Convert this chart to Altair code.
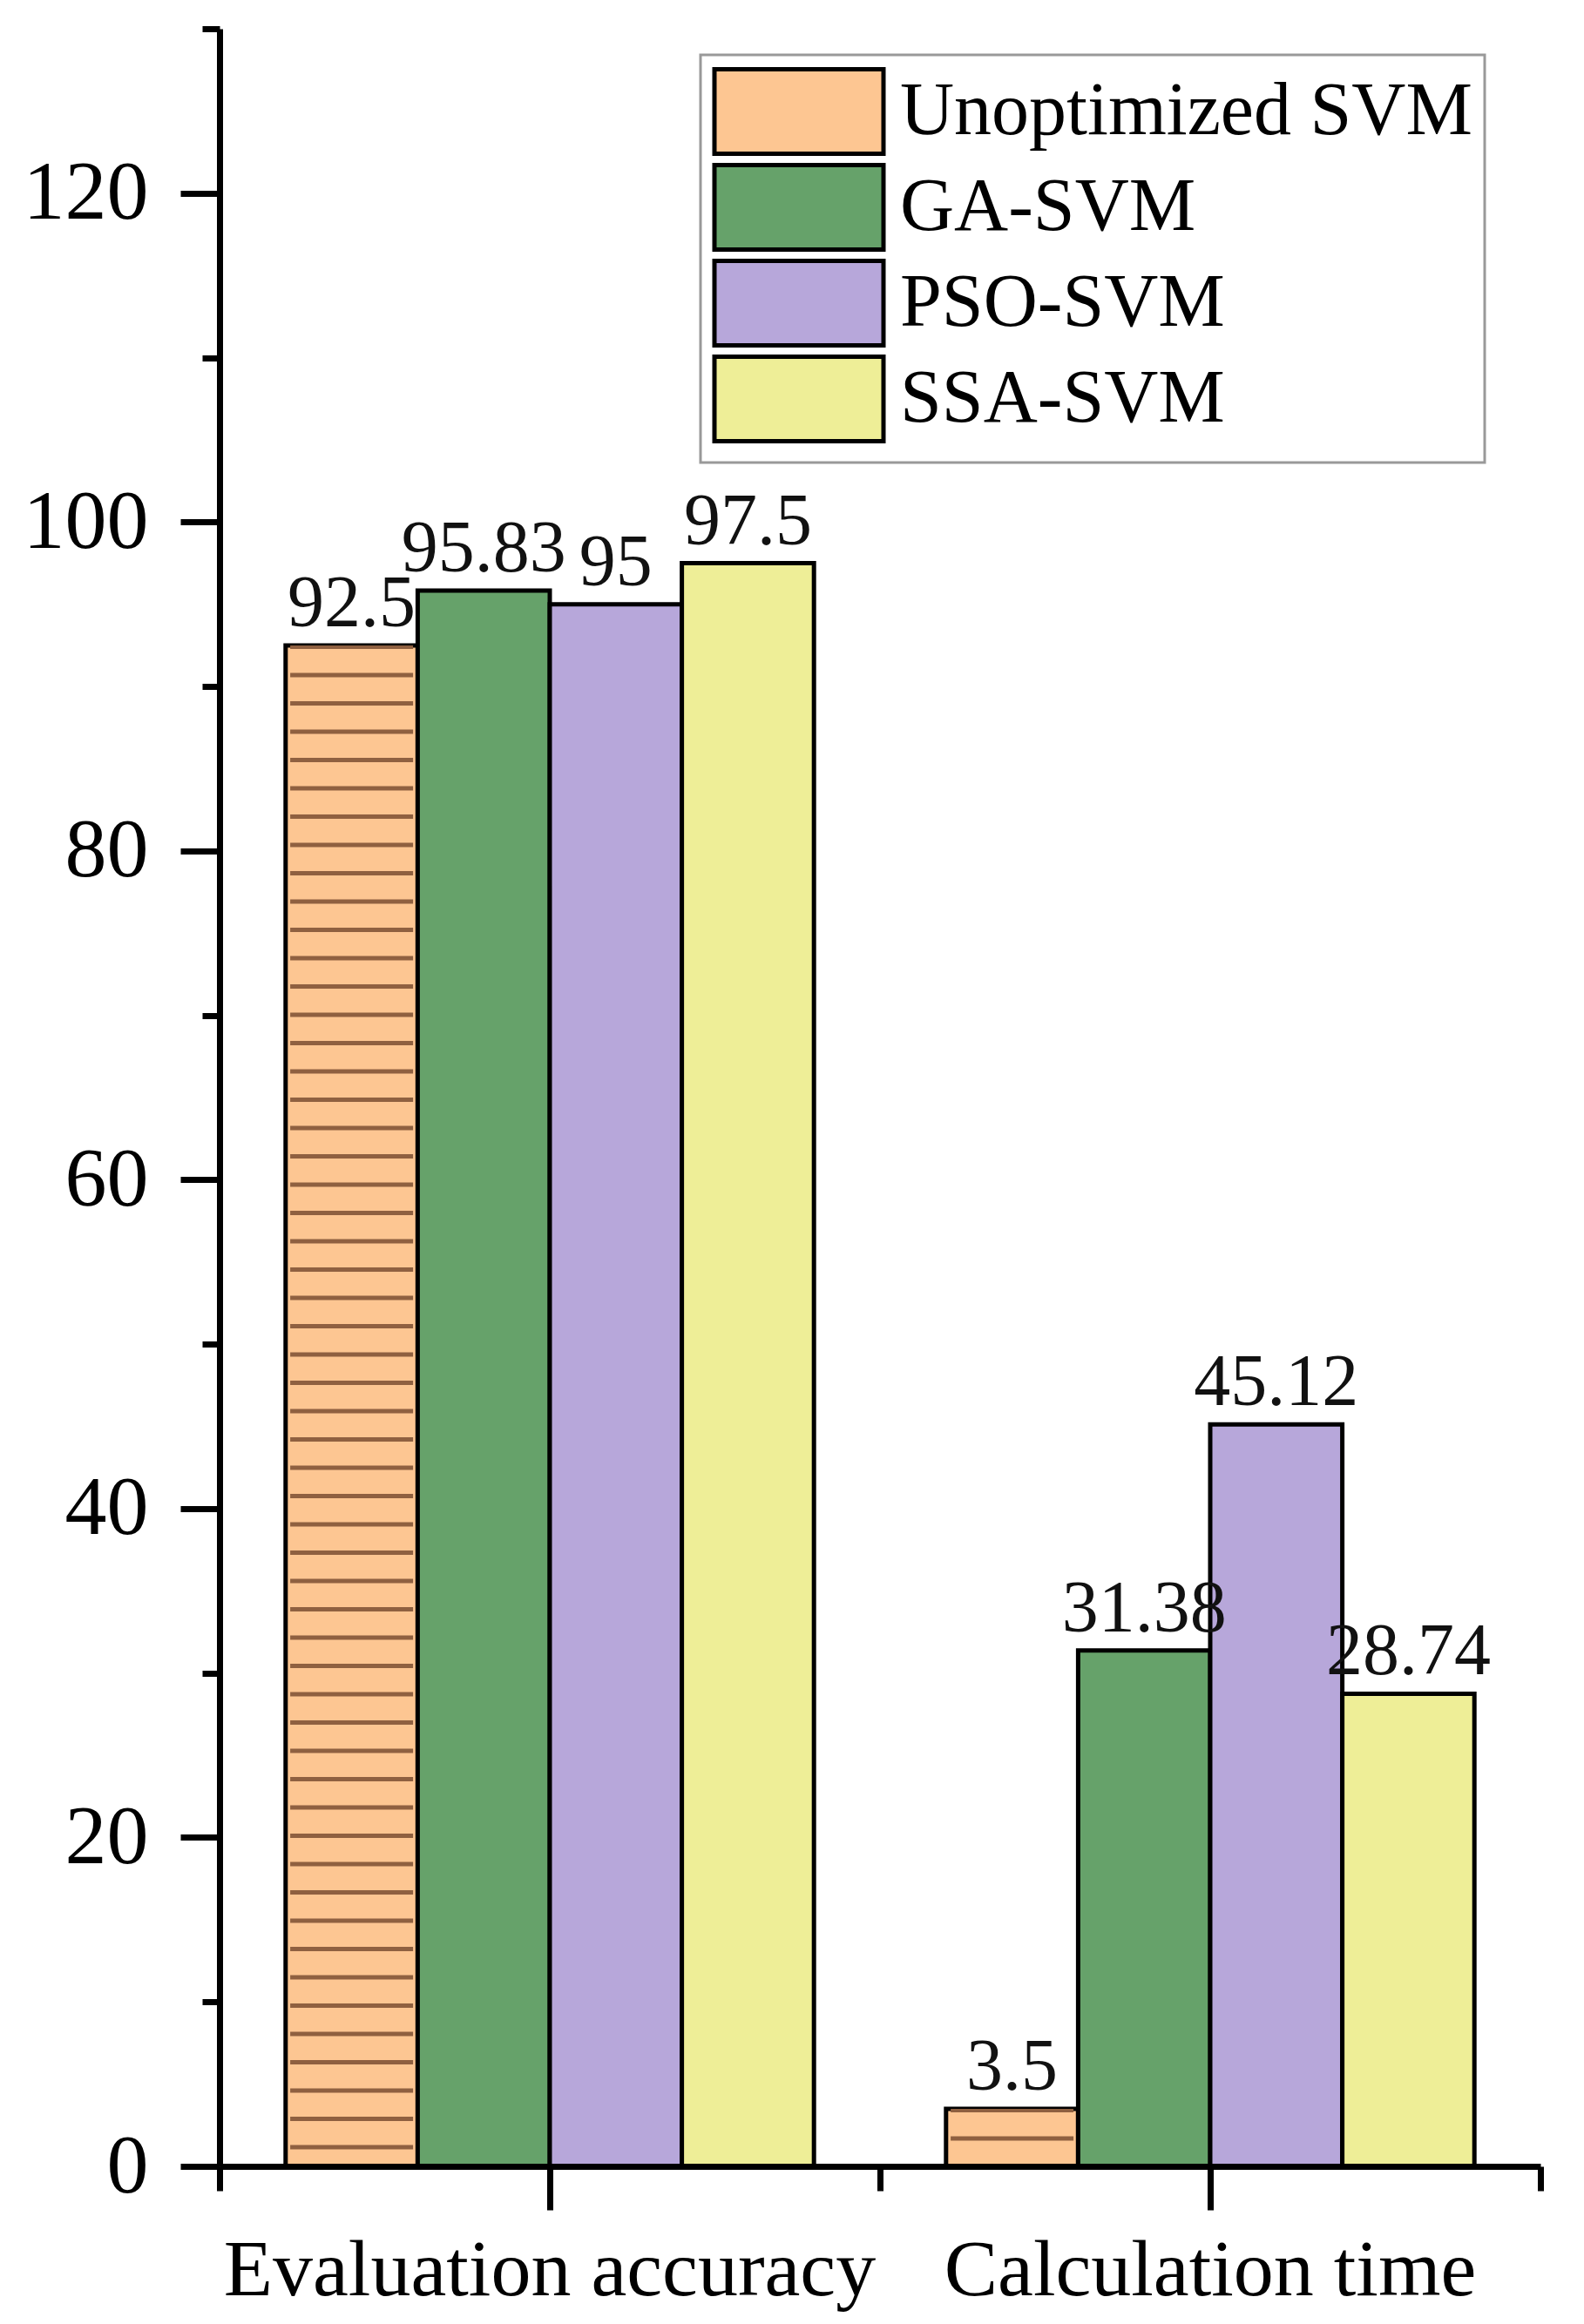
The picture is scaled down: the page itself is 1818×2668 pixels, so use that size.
import altair as alt
import pandas as pd

categories = ["Evaluation accuracy", "Calculation time"]
series = ["Unoptimized SVM", "GA-SVM", "PSO-SVM", "SSA-SVM"]
accuracy = [92.5, 95.83, 95, 97.5]
calc_time = [3.5, 31.38, 45.12, 28.74]
y_major = [0, 20, 40, 60, 80, 100, 120]
y_minor = [10, 30, 50, 70, 90, 110, 130]
colors = ["#FDC692", "#66A26A", "#B7A7DA", "#EEEE97"]
stripe_color = "#8F6040"

rows = []
for cat, vals in zip(categories, [accuracy, calc_time]):
    for s, v in zip(series, vals):
        rows.append({"cat": cat, "series": s, "value": v, "label": f"{v:g}"})
df = pd.DataFrame(rows)

FONT = "Liberation Serif"
W, H = 1516, 2454

x_scale = alt.Scale(domain=categories, paddingInner=0, paddingOuter=0)
xo_scale = alt.Scale(domain=series, paddingInner=0, paddingOuter=0.5)
y_scale = alt.Scale(domain=[0, 130], nice=False, zero=True)

base = alt.Chart(df)

bars = base.mark_bar(stroke="black", strokeWidth=5, opacity=1).encode(
    x=alt.X("cat:N", scale=x_scale, sort=categories,
            axis=alt.Axis(title=None, orient="bottom", labelFont=FONT, labelFontSize=92,
                          labelColor="black", labelAngle=0, labelPadding=24, labelLimit=0,
                          tickSize=50, tickWidth=7, tickColor="black", domainWidth=7,
                          domainColor="black", zindex=2, tickBand="center")),
    xOffset=alt.XOffset("series:N", scale=xo_scale, sort=series),
    y=alt.Y("value:Q", scale=y_scale,
            axis=alt.Axis(title=None, orient="left", values=y_major, labelFont=FONT,
                          labelFontSize=96, labelColor="black", labelPadding=37,
                          tickSize=45, tickWidth=7, tickColor="black", domainWidth=7,
                          domainColor="black", zindex=2, grid=False)),
    color=alt.Color("series:N", scale=alt.Scale(domain=series, range=colors), sort=series,
                    legend=alt.Legend(title=None, orient="none", legendX=552, legendY=30,
                                      symbolType="M-2,-1H2V1H-2Z", symbolSize=9409,
                                      symbolOffset=48, symbolStrokeColor="black",
                                      symbolStrokeWidth=5, symbolOpacity=1,
                                      labelFont=FONT, labelFontSize=86, labelColor="black",
                                      labelOffset=65, labelLimit=0, rowPadding=-10,
                                      padding=14, strokeColor="#999999",
                                      fillColor="white", direction="vertical")),
)

stripes = base.transform_filter(alt.datum.series == series[0]).mark_rule(
    color=stripe_color, strokeWidth=141, strokeDash=[5, 27.5], strokeDashOffset=1,
    strokeCap="butt"
).encode(
    x=alt.X("cat:N", scale=x_scale, sort=categories, axis=None),
    xOffset=alt.XOffset("series:N", scale=xo_scale, sort=series),
    y=alt.Y("value:Q", scale=y_scale, axis=None),
    y2=alt.datum(0),
)

labels = base.mark_text(font=FONT, fontSize=84, color="#111111", baseline="alphabetic",
                        dy=-22).encode(
    x=alt.X("cat:N", scale=x_scale, sort=categories,
            axis=alt.Axis(title=None, orient="bottom", labels=False, domain=False,
                          tickBand="extent", tickSize=28, tickWidth=7, tickColor="black",
                          zindex=2)),
    xOffset=alt.XOffset("series:N", scale=xo_scale, sort=series),
    y=alt.Y("value:Q", scale=y_scale,
            axis=alt.Axis(title=None, orient="left", labels=False, domain=False,
                          values=y_minor, tickSize=20, tickWidth=7, tickColor="black",
                          zindex=2, grid=False)),
    text="label:N",
)

chart = alt.layer(bars, stripes, labels).resolve_axis(
    x="independent", y="independent"
).properties(
    width=W, height=H,
    padding={"left": 244, "top": 25, "right": 40, "bottom": 170},
    autosize=alt.AutoSizeParams(type="none"),
    background="white",
).configure_view(stroke=None).configure_legend(strokeWidth=3)

chart.save("out.html", embed_options={"renderer": "svg", "actions": False})
